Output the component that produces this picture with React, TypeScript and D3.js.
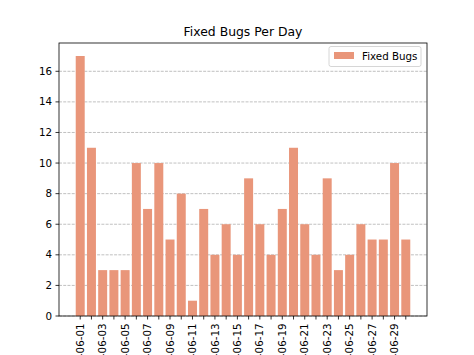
import React from "react";
import * as d3 from "d3";

const dates = Array.from({ length: 30 }, (_, i) => `2023-06-${String(i + 1).padStart(2, "0")}`);
const fixedBugs = [17, 11, 3, 3, 3, 10, 7, 10, 5, 8, 1, 7, 4, 6, 4, 9, 6, 4, 7, 11, 6, 4, 9, 3, 4, 6, 5, 5, 10, 5];
const yTicks = [0, 2, 4, 6, 8, 10, 12, 14, 16];

const W = 474, H = 355;
const L = 59, R = 427, T = 43, B = 316;
const font = "DejaVu Sans, sans-serif";

export default function App() {
  const n = dates.length;
  const lo = -0.4, hi = n - 1 + 0.4;
  const m = (hi - lo) * 0.05;
  const x = d3.scaleLinear().domain([lo - m, hi + m]).range([L, R]);
  const y = d3.scaleLinear().domain([0, d3.max(fixedBugs)! * 1.05]).range([B, T]);
  const bw = x(0.8) - x(0);
  return (
    <svg width={W} height={H} style={{ position: "absolute", left: 0, top: 0 }} fontFamily={font}>
      <rect width={W} height={H} fill="#fff" />
      <text x={(L + R) / 2} y={35.5} textAnchor="middle" fontSize={12.4}>Fixed Bugs Per Day</text>
      {yTicks.map((t) => (
        <line key={"g" + t} x1={L} x2={R} y1={y(t)} y2={y(t)} stroke="#b0b0b0" strokeWidth={0.8} strokeDasharray="2.96,1.28" />
      ))}
      {fixedBugs.map((v, i) => (
        <rect key={i} x={x(i) - bw / 2} y={y(v)} width={bw} height={B - y(v)} fill="#E9967A" />
      ))}
      <rect x={L} y={T} width={R - L} height={B - T} fill="none" stroke="#000" strokeWidth={0.8} />
      {yTicks.map((t) => (
        <g key={"y" + t}>
          <line x1={L - 3.5} x2={L} y1={y(t)} y2={y(t)} stroke="#000" strokeWidth={0.8} />
          <text x={L - 7} y={y(t)} dy="0.35em" textAnchor="end" fontSize={10.3}>{t}</text>
        </g>
      ))}
      {dates.map((d, i) => (
        <g key={"x" + i}>
          <line x1={x(i)} x2={x(i)} y1={B} y2={B + 3.5} stroke="#000" strokeWidth={0.8} />
          {i % 2 === 0 && (
            <text transform={`translate(${x(i)},${B + 7.5}) rotate(-90)`} dy="0.35em" textAnchor="end" fontSize={10.3}>{d}</text>
          )}
        </g>
      ))}
      <g>
        <rect x={329} y={46.5} width={92} height={20} rx={2} fill="#fff" fillOpacity={0.8} stroke="#cccccc" strokeWidth={0.8} />
        <rect x={334} y={52} width={20} height={7} fill="#E9967A" />
        <text x={362} y={56} dy="0.35em" fontSize={10.3}>Fixed Bugs</text>
      </g>
    </svg>
  );
}
